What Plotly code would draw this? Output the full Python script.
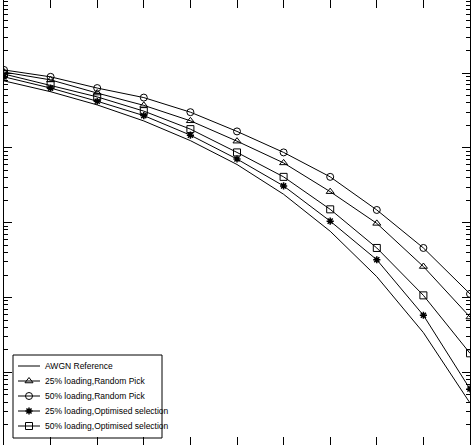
import plotly.graph_objects as go

# Eb/N0 (dB) and BER values
snr_db = [0, 1, 2, 3, 4, 5, 6, 7, 8, 9, 10]

ber_awgn = [0.0786, 0.0563, 0.0375, 0.0229, 0.0125, 0.0060, 0.0024, 7.7e-4, 1.9e-4, 3.4e-5, 3.9e-6]
ber_25_random = [0.103, 0.081, 0.054, 0.037, 0.023, 0.0123, 0.0063, 0.0026, 9.8e-4, 2.6e-4, 5.5e-5]
ber_50_random = [0.110, 0.089, 0.063, 0.047, 0.030, 0.0166, 0.0087, 0.0041, 0.00148, 4.6e-4, 1.12e-4]
ber_25_opt = [0.089, 0.063, 0.042, 0.027, 0.0148, 0.0071, 0.0031, 0.00105, 3.2e-4, 5.8e-5, 6.0e-6]
ber_50_opt = [0.097, 0.069, 0.048, 0.031, 0.0178, 0.0087, 0.0041, 0.00151, 4.6e-4, 1.07e-4, 1.8e-5]

series_names = [
    "AWGN Reference",
    "25% loading,Random Pick",
    "50% loading,Random Pick",
    "25% loading,Optimised selection",
    "50% loading,Optimised selection",
]
series_values = [ber_awgn, ber_25_random, ber_50_random, ber_25_opt, ber_50_opt]
series_symbols = [None, "triangle-up-open", "circle-open", "asterisk-open", "square-open"]

W, H = 474, 445
ML, MR = 4, 4


def px(x):
    return (x - ML) / (W - ML - MR)


def py(y):
    return 1 - y / H


def marker_style(symbol):
    if symbol == "asterisk-open":
        return dict(symbol=symbol, size=6, color="black", line=dict(color="black", width=1.5))
    return dict(symbol=symbol, size=7, color="black", line=dict(color="black", width=1))


fig = go.Figure()
for name, ber, symbol in zip(series_names, series_values, series_symbols):
    fig.add_trace(
        go.Scatter(
            x=snr_db,
            y=ber,
            mode="lines" if symbol is None else "lines+markers",
            line=dict(color="black", width=1),
            marker=marker_style(symbol) if symbol else None,
            name=name,
            showlegend=False,
        )
    )

# hand-drawn legend (MATLAB style, tighter rows than plotly's own legend)
box_l, box_r, box_t, box_b = 13, 162, 355, 438
row_y = [366, 381, 396, 411, 426]
fig.add_shape(
    type="rect",
    xref="paper",
    yref="paper",
    x0=px(box_l),
    x1=px(box_r),
    y0=py(box_b),
    y1=py(box_t),
    line=dict(color="black", width=1),
    fillcolor="white",
    layer="below",
)
for name, symbol, ry in zip(series_names, series_symbols, row_y):
    fig.add_shape(
        type="line",
        xref="paper",
        yref="paper",
        x0=px(18),
        x1=px(40),
        y0=py(ry),
        y1=py(ry),
        line=dict(color="black", width=1),
        layer="below",
    )
    fig.add_annotation(
        x=px(43),
        y=py(ry),
        xref="paper",
        yref="paper",
        text=name,
        showarrow=False,
        xanchor="left",
        yanchor="middle",
        font=dict(size=8.5),
    )
    if symbol:
        fig.add_trace(
            go.Scatter(
                x=[px(29)],
                y=[py(ry)],
                xaxis="x2",
                yaxis="y2",
                mode="markers",
                marker=marker_style(symbol),
                showlegend=False,
                hoverinfo="skip",
            )
        )

fig.update_layout(
    width=W,
    height=H,
    margin=dict(l=ML, r=MR, t=0, b=0),
    paper_bgcolor="white",
    plot_bgcolor="white",
    font=dict(family="Liberation Sans Narrow, Arial Narrow, Liberation Sans, Arial", size=8, color="black"),
    showlegend=False,
    xaxis=dict(
        range=[0, 10],
        dtick=1,
        showgrid=False,
        zeroline=False,
        showline=True,
        linecolor="rgba(0,0,0,0)",
        mirror="ticks",
        ticks="inside",
        ticklen=8,
        tickcolor="black",
        showticklabels=False,
    ),
    yaxis=dict(
        type="log",
        range=[-5.97, -0.024],
        dtick=1,
        showgrid=False,
        zeroline=False,
        showline=True,
        linecolor="black",
        linewidth=1,
        mirror="ticks",
        ticks="inside",
        ticklen=8,
        tickcolor="black",
        showticklabels=False,
        minor=dict(ticks="inside", ticklen=4, tickcolor="black", dtick="D1", showgrid=False),
    ),
    xaxis2=dict(range=[0, 1], overlaying="x", visible=False, fixedrange=True),
    yaxis2=dict(range=[0, 1], overlaying="y", visible=False, fixedrange=True),
)

# the page's default body margin would shift the chart; drop it
fig.write_html(
    "out.html",
    config={"displayModeBar": False},
    post_script="document.body.style.margin='0';",
)
